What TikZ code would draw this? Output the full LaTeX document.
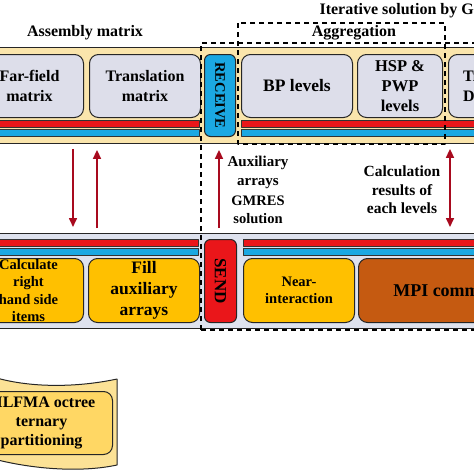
\documentclass[tikz,border=0pt]{standalone}
\usepackage{fontspec}
\setmainfont{Liberation Serif}
\usetikzlibrary{arrows.meta,positioning,shapes,calc}
\definecolor{bandYel}{RGB}{250,229,172}
\definecolor{bandGray}{RGB}{222,226,238}
\definecolor{boxGray}{RGB}{221,222,234}
\definecolor{boxOrange}{RGB}{255,192,0}
\definecolor{boxBrown}{RGB}{197,90,17}
\definecolor{barRed}{RGB}{234,22,26}
\definecolor{barBlue}{RGB}{27,168,226}
\definecolor{arrRed}{RGB}{168,10,30}
\definecolor{tapeYel}{RGB}{252,226,150}
\definecolor{tapeIn}{RGB}{255,215,100}
\newcommand{\fsz}[2]{\fontsize{#1}{#2}\selectfont\bfseries}

\begin{document}
\begin{tikzpicture}[x=1pt, y=-1pt, line join=round,
    band/.style={draw=black!85, line width=0.9pt},
    blk/.style={draw=black!85, line width=1pt, rounded corners=9pt, align=center,
        inner sep=0pt, anchor=north west, font=\fsz{16}{20}},
    grybox/.style={blk, fill=boxGray},
    orgbox/.style={blk, fill=boxOrange},
    redbar/.style={draw=black!80, line width=0.5pt, fill=barRed},
    bluebar/.style={draw=black!80, line width=0.5pt, fill=barBlue},
    dbox/.style={draw=black, line width=1.3pt, dash pattern=on 5pt off 4pt},
    arr/.style={draw=arrRed, line width=1.6pt, -{Triangle[width=8pt,length=9pt]},
        shorten <=5pt, shorten >=6pt},
    lbl/.style={align=center, font=\fsz{15.5}{18.5}}]
    \useasboundingbox (0,0) rectangle (474,474);
    \clip (0,0) rectangle (474,474);
    \fill[white] (0,0) rectangle (474,474);

    % upper band: assembly + aggregation
    \node[band, fill=bandYel, minimum width=520, minimum height=96, anchor=north west] (upband) at (-20,47) {};
    \node[grybox, minimum width=108, minimum height=63] (farfield) at (-25,54) {Far-field\\matrix};
    \node[grybox, minimum width=111, minimum height=63, right=5 of farfield] (transl) {Translation\\matrix};
    \draw[redbar] (-20,120) rectangle (199,127);
    \draw[bluebar] (-20,129) rectangle (199,136);
    \node[blk, fill=barBlue, rounded corners=6pt, minimum width=31, minimum height=82] (recv) at (204,54)
        {\rotatebox{-90}{\fsz{14.5}{16}RECEIVE}};
    \node[grybox, minimum width=111, minimum height=63, font=\fsz{17.5}{20}] (bplev) at (241,54) {BP levels};
    \node[grybox, minimum width=85, minimum height=63, right=4 of bplev, font=\fsz{16.5}{20}] (hsplev) {HSP \&\\PWP\\levels};
    \node[grybox, minimum width=115, minimum height=63] (disagg) at (448,54) {};
    \node[anchor=north west, align=left, inner sep=0pt, font=\fsz{16}{20}] (disaggtxt) at (463,70) {Translation\\Disaggregation};
    \draw[redbar] (241,120) rectangle (500,127);
    \draw[bluebar] (241,129) rectangle (500,136);

    % lower band: filling + near field
    \node[band, fill=bandGray, minimum width=520, minimum height=95, anchor=north west] (lowband) at (-20,233) {};
    \draw[redbar] (-20,239) rectangle (198,246);
    \draw[bluebar] (-20,248) rectangle (198,255);
    \draw[redbar] (243,239) rectangle (500,246);
    \draw[bluebar] (243,248) rectangle (500,255);
    \node[orgbox, minimum width=110, minimum height=64, font=\fsz{14.5}{17.5}] (calcrhs) at (-27,258)
        {Calculate\\right\\hand side\\items};
    \node[orgbox, minimum width=111, minimum height=64, right=4 of calcrhs, font=\fsz{17.5}{21}] (fillaux)
        {Fill\\auxiliary\\arrays};
    \node[blk, fill=barRed, rounded corners=6pt, minimum width=32, minimum height=83] (send) at (204,239)
        {\rotatebox{-90}{\fsz{17}{18}SEND}};
    \node[orgbox, minimum width=111, minimum height=64, font=\fsz{14.5}{17.5}] (nearint) at (243,258)
        {Near-\\interaction};
    \node[blk, fill=boxBrown, minimum width=228, minimum height=64, right=3 of nearint, font=\fsz{18}{20}] (mpicomm)
        {MPI communication};

    % dashed groups
    \draw[dbox] (201,330) -- (201,43) -- (490,43);
    \draw[dbox] (201,330) -- (490,330);
    \draw[dbox] (238,23) rectangle (445,144);

    % headings
    \node[lbl, font=\fsz{16}{18}] (asmhead) at (85,33) {Assembly matrix};
    \node[lbl, font=\fsz{16}{18}] (agghead) at (354,33) {Aggregation};
    \node[lbl, anchor=west, font=\fsz{16}{18}] (itshead) at (316,11) {Iterative solution by GMRES};

    % data flow
    \coordinate (xa) at (73,0);
    \coordinate (xb) at (97,0);
    \coordinate (xc) at (219,0);
    \coordinate (xd) at (450,0);
    \draw[arr] (upband.south -| xa) -- (lowband.north -| xa);
    \draw[arr] (lowband.north -| xb) -- (upband.south -| xb);
    \draw[arr] (lowband.north -| xc) -- (upband.south -| xc);
    \draw[arr, {Triangle[width=8pt,length=9pt]}-{Triangle[width=8pt,length=9pt]}] (upband.south -| xd) -- (lowband.north -| xd);
    \node[lbl, font=\fsz{15}{19}] (auxlbl) at (258,172) {Auxiliary\\arrays};
    \node[lbl, font=\fsz{14.5}{17.5}] (gmreslbl) at (258,210) {GMRES\\solution};
    \node[lbl] (calclbl) at (402,190) {Calculation\\results of\\each levels};

    % octree partition
    \draw[draw=black!85, line width=1pt, fill=tapeYel] (-10,376) .. controls (30,389) and (80,387) .. (117,379)
        -- (117,465) .. controls (80,473) and (30,469) .. (-10,458) -- cycle;
    \node[blk, fill=tapeIn, minimum width=142, minimum height=63, font=\fsz{16}{19}] (octree) at (-30,391)
        {MLFMA octree\\ternary\\partitioning};
\end{tikzpicture}
\end{document}
